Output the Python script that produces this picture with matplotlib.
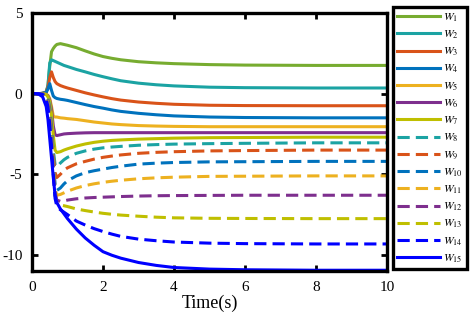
import matplotlib
matplotlib.use("Agg")
import matplotlib.pyplot as plt

plt.rcParams["font.family"] = ["Liberation Serif", "DejaVu Serif"]
plt.rcParams["mathtext.fontset"] = "stix"

# time grid
t = [0, 0.1, 0.2, 0.3, 0.4, 0.45, 0.5, 0.55, 0.6, 0.65, 0.7, 0.8, 0.9, 1.0,
     1.25, 1.5, 1.75, 2, 2.25, 2.5, 3, 3.5, 4, 5, 6, 8, 10]

w1 = [0, 0, 0, 0.02, 0.1, 0.5, 1.7, 2.6, 2.8, 2.95, 3.05, 3.1, 3.05, 3.0,
      2.85, 2.65, 2.46, 2.3, 2.19, 2.1, 1.98, 1.91, 1.86, 1.8, 1.77, 1.75, 1.75]
w2 = [0, 0, 0, 0.02, 0.1, 0.5, 1.9, 2.1, 2.05, 2.0, 1.95, 1.85, 1.75, 1.68,
      1.5, 1.35, 1.19, 1.05, 0.92, 0.8, 0.65, 0.55, 0.48, 0.4, 0.37, 0.35, 0.35]
w3 = [0, 0, 0, 0.02, 0.1, 0.4, 1.0, 1.35, 1.0, 0.75, 0.62, 0.5, 0.42, 0.35,
      0.2, 0.05, -0.08, -0.2, -0.31, -0.4, -0.52, -0.6, -0.66, -0.72, -0.74, -0.75, -0.75]
w4 = [0, 0, 0, 0.02, 0.08, 0.3, 0.62, 0.2, -0.15, -0.25, -0.3, -0.35, -0.38, -0.42,
      -0.55, -0.68, -0.8, -0.9, -1.01, -1.1, -1.22, -1.31, -1.38, -1.45, -1.48, -1.5, -1.5]
w5 = [0, 0, 0, 0, -0.05, -0.1, -0.3, -0.8, -1.4, -1.45, -1.45, -1.5, -1.52, -1.55,
      -1.6, -1.68, -1.76, -1.82, -1.88, -1.92, -1.98, -2.01, -2.03, -2.05, -2.05, -2.05, -2.05]
w6 = [0, 0, 0, 0, -0.05, -0.15, -0.4, -1.0, -2.0, -2.55, -2.6, -2.55, -2.5, -2.48,
      -2.45, -2.43, -2.42, -2.42, -2.42, -2.42, -2.42, -2.42, -2.42, -2.42, -2.42, -2.42, -2.42]
w7 = [0, 0, 0, 0, -0.05, -0.2, -0.5, -1.3, -2.6, -3.5, -3.65, -3.6, -3.5, -3.42,
      -3.25, -3.12, -3.02, -2.95, -2.9, -2.87, -2.82, -2.79, -2.76, -2.73, -2.72, -2.7, -2.7]
w8 = [0, 0, 0, -0.02, -0.1, -0.3, -0.8, -2.0, -3.5, -4.4, -4.55, -4.3, -4.1, -3.95,
      -3.7, -3.55, -3.44, -3.36, -3.31, -3.27, -3.2, -3.16, -3.13, -3.1, -3.08, -3.05, -3.05]
w9 = [0, 0, 0, -0.02, -0.15, -0.4, -1.0, -2.3, -3.8, -4.9, -5.2, -5.0, -4.75, -4.6,
      -4.35, -4.2, -4.06, -3.95, -3.87, -3.8, -3.7, -3.64, -3.6, -3.55, -3.53, -3.5, -3.5]
w10 = [0, 0, 0, -0.02, -0.2, -0.5, -1.2, -2.5, -4.2, -5.6, -6.0, -5.85, -5.6, -5.4,
       -5.1, -4.9, -4.78, -4.68, -4.58, -4.5, -4.37, -4.31, -4.27, -4.23, -4.22, -4.2, -4.2]
w11 = [0, 0, 0, -0.03, -0.25, -0.6, -1.4, -2.7, -4.4, -5.9, -6.3, -6.25, -6.15, -6.05,
       -5.85, -5.7, -5.59, -5.5, -5.43, -5.37, -5.28, -5.22, -5.18, -5.13, -5.12, -5.1, -5.1]
w12 = [0, 0, 0, -0.03, -0.3, -0.7, -1.6, -2.9, -4.6, -6.1, -6.6, -6.68, -6.65, -6.6,
       -6.52, -6.47, -6.44, -6.42, -6.4, -6.38, -6.35, -6.33, -6.32, -6.31, -6.3, -6.3, -6.3]
w13 = [0, 0, 0, -0.03, -0.3, -0.75, -1.7, -3.0, -4.8, -6.3, -6.8, -6.9, -6.95, -7.0,
       -7.15, -7.25, -7.34, -7.42, -7.48, -7.53, -7.6, -7.66, -7.7, -7.73, -7.74, -7.75, -7.75]
w14 = [0, 0, 0, -0.04, -0.35, -0.8, -1.9, -3.2, -5.0, -6.5, -7.0, -7.2, -7.35, -7.5,
       -7.9, -8.15, -8.37, -8.55, -8.71, -8.85, -9.02, -9.12, -9.2, -9.27, -9.3, -9.32, -9.32]
w15 = [0, 0, -0.05, -0.2, -0.8, -1.6, -2.8, -4.0, -5.2, -6.3, -6.75, -7.15, -7.45, -7.75,
       -8.4, -8.95, -9.4, -9.8, -10.02, -10.2, -10.47, -10.65, -10.78, -10.88, -10.92, -10.95, -10.95]

series = [w1, w2, w3, w4, w5, w6, w7, w8, w9, w10, w11, w12, w13, w14, w15]
labels = [f"$W_{{{i}}}$" for i in range(1, 16)]

green = "#77AC30"
teal = "#1BA3A3"
orange = "#D95319"
blue = "#0072BD"
yellow = "#EDB120"
purple = "#7E2F8E"
olive = "#BFBF00"
pure_blue = "#0000FF"
colors = [green, teal, orange, blue, yellow, purple, olive,
          teal, orange, blue, yellow, purple, olive, pure_blue, pure_blue]
dashed = [False] * 7 + [True] * 7 + [False]

fig = plt.figure(figsize=(4.74, 3.25), dpi=100)
ax = fig.add_axes([0.0675, 0.166, 0.749, 0.794])

handles = []
for y, c, d, lab in zip(series, colors, dashed, labels):
    ln, = ax.plot(t, y, color=c, lw=2.2, label=lab)
    if d:
        ln.set_dashes((4, 2))
    handles.append(ln)

ax.set_xlim(0, 10)
ax.set_ylim(-11, 5)
ax.set_xticks([0, 2, 4, 6, 8, 10])
ax.set_yticks([5, 0, -5, -10])
ax.set_yticklabels(["5", "0", "-5", "-10"])
ax.tick_params(direction="in", length=4, width=2, top=True, right=True,
               labelsize=11, pad=7)
for s in ax.spines.values():
    s.set_linewidth(2.4)
ax.set_xlabel("Time(s)", fontsize=13, labelpad=1)

leg = fig.legend(handles=handles, loc="upper left", bbox_to_anchor=(0.829, 0.978),
                 borderaxespad=0, fontsize=8.5, handlelength=3.6, handletextpad=0.3,
                 labelspacing=0.4, borderpad=0.35, fancybox=False, framealpha=1)
leg.get_frame().set_edgecolor("black")
leg.get_frame().set_linewidth(2.4)

fig.savefig("out.png", dpi=100)
